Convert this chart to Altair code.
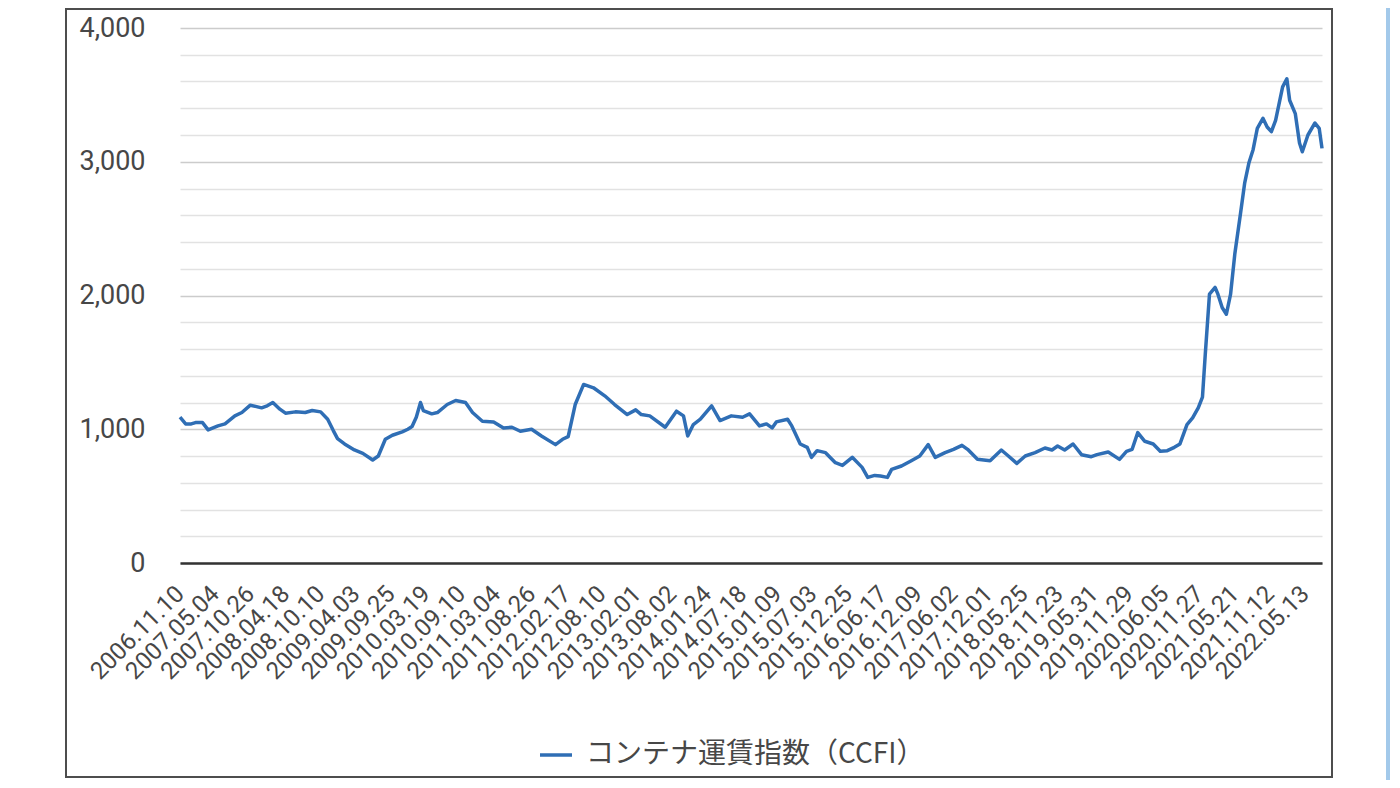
import altair as alt
import pandas as pd

# week index (0 = 2006.11.10)
idx = [0, 4, 8, 11, 16, 20, 27, 32, 39, 44, 50, 58, 62, 66, 71, 75, 82, 89, 94, 100,
       105, 109, 112, 117, 124, 130, 137, 141, 146, 151, 158, 162, 165, 168, 171, 173, 179, 183, 190, 196,
       203, 208, 215, 223, 230, 236, 242, 250, 257, 267, 272, 276, 281, 287, 294, 302, 309, 318, 324, 328,
       334, 345, 353, 358, 361, 365, 370, 378, 384, 392, 400, 405, 412, 417, 421, 424, 432, 435, 441, 446,
       449, 453, 459, 466, 471, 478, 485, 489, 494, 498, 503, 506, 513, 520, 526, 532, 537, 544, 550, 556,
       560, 567, 576, 584, 589, 595, 601, 608, 615, 620, 624, 629, 635, 641, 648, 652, 660, 668, 673, 677,
       681, 686, 692, 697, 702, 707, 711, 716, 720, 724, 727, 729, 732, 736, 738, 741, 744, 747, 750, 754,
       757, 760, 763, 766, 770, 773, 776, 779, 784, 787, 789, 793, 796, 798, 802, 807, 810, 812]

ccfi = [1090, 1040, 1040, 1050, 1050, 995, 1025, 1040, 1100, 1125, 1180, 1160, 1175, 1200, 1150, 1120, 1130, 1125, 1140, 1130,
        1075, 990, 930, 890, 845, 820, 770, 800, 925, 955, 980, 1000, 1020, 1090, 1200, 1140, 1115, 1125, 1185, 1215,
        1200, 1125, 1060, 1055, 1010, 1015, 985, 1000, 950, 885, 925, 945, 1185, 1335, 1310, 1250, 1185, 1110, 1145, 1110,
        1100, 1015, 1135, 1100, 950, 1035, 1075, 1175, 1065, 1100, 1090, 1115, 1025, 1040, 1010, 1055, 1075, 1025, 890, 865,
        790, 840, 825, 750, 730, 790, 715, 640, 655, 650, 640, 700, 725, 765, 800, 885, 790, 825, 850, 880,
        850, 775, 765, 845, 800, 745, 800, 825, 860, 845, 875, 845, 890, 810, 795, 810, 830, 775, 835, 850,
        975, 910, 890, 835, 840, 865, 890, 1035, 1085, 1160, 1240, 1560, 2010, 2060, 2010, 1910, 1860, 2010, 2310, 2610,
        2840, 2990, 3090, 3250, 3325, 3260, 3225, 3310, 3560, 3620, 3460, 3360, 3140, 3075, 3200, 3290, 3250, 3100]

date_labels = ["2006.11.10", "2007.05.04", "2007.10.26", "2008.04.18", "2008.10.10", "2009.04.03",
               "2009.09.25", "2010.03.19", "2010.09.10", "2011.03.04", "2011.08.26", "2012.02.17",
               "2012.08.10", "2013.02.01", "2013.08.02", "2014.01.24", "2014.07.18", "2015.01.09",
               "2015.07.03", "2015.12.25", "2016.06.17", "2016.12.09", "2017.06.02", "2017.12.01",
               "2018.05.25", "2018.11.23", "2019.05.31", "2019.11.29", "2020.06.05", "2020.11.27",
               "2021.05.21", "2021.11.12", "2022.05.13"]
label_step = 25
series_name = "コンテナ運賃指数（CCFI）"

df = pd.DataFrame({"i": idx, "v": ccfi, "s": [series_name] * len(idx)})

js_arr = "[" + ",".join("'" + d + "'" for d in date_labels) + "]"

line = alt.Chart(df).mark_line(strokeWidth=3.5, strokeJoin="round").encode(
    x=alt.X("i:Q",
            scale=alt.Scale(domain=[0, 812], nice=False, zero=False),
            axis=alt.Axis(values=[label_step * k for k in range(len(date_labels))],
                          labelExpr=js_arr + "[round(datum.value/" + str(label_step) + ")]",
                          labelAngle=-45, labelAlign="right", labelBaseline="middle",
                          labelFontSize=24, labelFont="Roboto", labelColor="#474747",
                          labelPadding=27, ticks=False, grid=False,
                          domainColor="#333333", domainWidth=2.5,
                          labelOverlap=False, labelFlush=False, labelBound=False, title=None)),
    y=alt.Y("v:Q",
            scale=alt.Scale(domain=[0, 4000], nice=False),
            axis=alt.Axis(values=list(range(0, 4001, 200)),
                          labelExpr="datum.value % 1000 === 0 ? format(datum.value, ',') : ''",
                          labelFontSize=27, labelFont="Roboto", labelColor="#474747",
                          labelPadding=35, ticks=False, domain=False, title=None,
                          gridColor={"condition": {"test": "datum.value % 1000 === 0", "value": "#cccccc"},
                                     "value": "#e2e2e2"},
                          gridWidth=1.6)),
    color=alt.Color("s:N", scale=alt.Scale(range=["#2f6eb5"]),
                    legend=alt.Legend(title=None, orient="none", legendX=358, legendY=709,
                                      symbolType="stroke", symbolSize=1024, symbolStrokeWidth=3.5,
                                      labelFontSize=28, labelFont="Noto Sans CJK JP",
                                      labelColor="#474747", labelOffset=12, labelLimit=700)),
)

one = pd.DataFrame({"k": [0]})
frame = alt.Chart(one).mark_rect(filled=False, stroke="#4d4d4d", strokeWidth=2).encode(
    x=alt.value(-114), x2=alt.value(1152), y=alt.value(-19), y2=alt.value(749))
side = alt.Chart(one).mark_rect(color="#a3c9ea").encode(
    x=alt.value(1206), x2=alt.value(1210), y=alt.value(-20), y2=alt.value(752))

chart = alt.layer(frame, side, line).properties(
    width=1142, height=535, autosize="none",
    padding={"left": 172, "top": 20, "right": 70, "bottom": 217},
).configure_view(strokeWidth=0)

chart.save("out.html", embed_options={"renderer": "svg", "actions": False})
